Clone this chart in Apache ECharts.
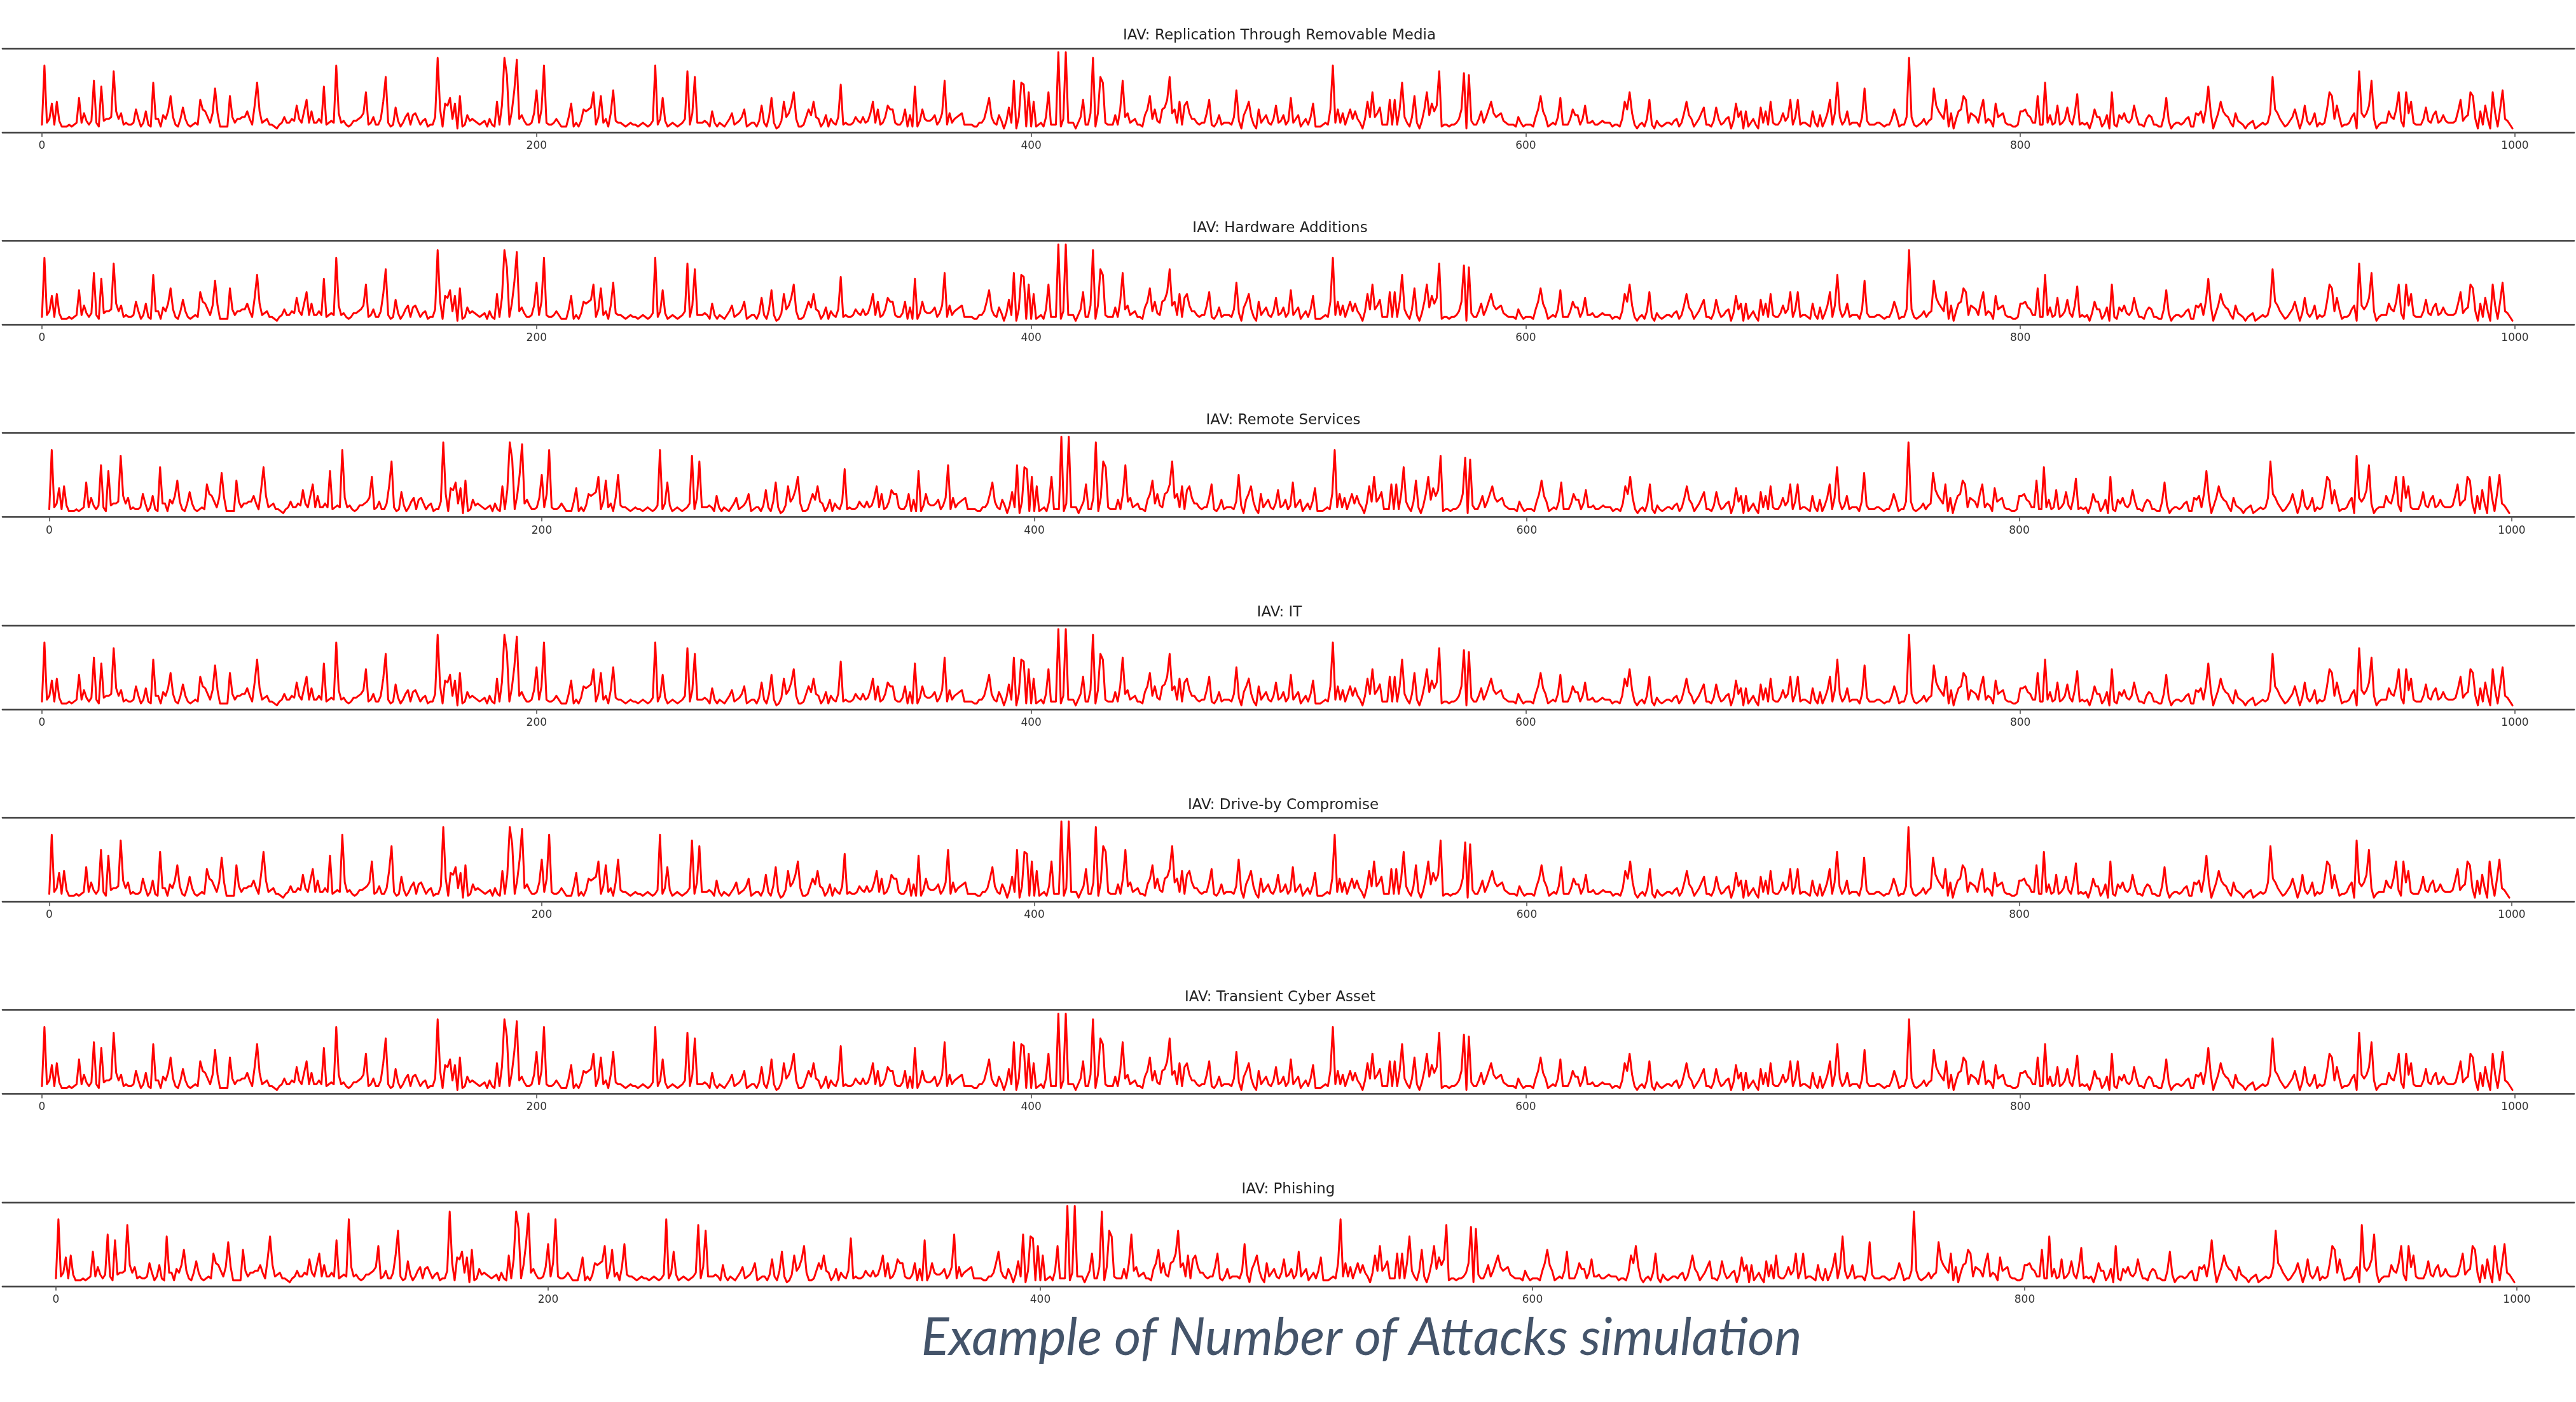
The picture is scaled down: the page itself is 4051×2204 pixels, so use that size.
<!DOCTYPE html>
<html>
<head>
<meta charset="utf-8">
<script src="https://cdn.jsdelivr.net/npm/echarts@6/dist/echarts.min.js"></script>
<style>
html,body{margin:0;padding:0;background:#fff;}
#chart{width:4051px;height:2204px;}
</style>
</head>
<body>
<div id="chart"></div>
<script>
// ---- data (same simulated series shown in every panel) ----
const attacks = [
2,33,3,5,13,2,14,4,1,1,
1,2,1,2,3,16,3,8,4,2,
4,25,3,1,22,4,5,5,6,30,
9,5,8,2,3,2,2,3,10,5,
1,3,9,2,1,24,5,5,1,7,
5,9,17,6,2,1,5,11,5,2,
1,2,3,2,15,10,9,6,3,8,
21,8,1,1,1,1,17,6,3,5,
5,6,6,9,5,2,12,24,9,3,
4,5,2,2,1,0,2,3,6,3,
3,5,4,12,5,3,9,15,3,9,
3,3,5,3,22,2,3,4,3,33,
8,3,4,2,1,2,4,4,5,6,
8,19,2,3,6,2,2,5,14,27,
3,1,2,11,4,1,3,6,8,2,
7,8,5,2,4,5,1,2,2,6,
37,10,1,13,12,16,5,13,0,17,
1,2,7,4,5,4,3,2,3,4,
1,5,2,1,14,2,12,37,28,2,
9,20,36,5,7,4,2,2,3,8,
20,3,10,33,3,2,2,3,5,3,
1,1,1,6,13,1,3,1,4,10,
9,10,11,19,2,6,17,3,5,1,
8,20,4,3,3,2,1,2,3,2,
2,1,2,3,2,1,2,4,33,2,
5,16,4,1,2,3,2,1,2,3,
5,30,2,8,27,3,3,3,4,3,
1,9,3,1,3,2,1,3,5,8,
2,3,4,6,10,1,2,3,3,1,
4,12,3,1,6,16,3,0,1,4,
14,6,8,12,19,5,1,1,2,6,
10,7,14,6,5,1,3,7,1,5,
3,2,6,23,2,3,2,2,3,6,
4,3,6,3,4,8,14,3,10,2,
3,6,12,10,10,3,2,2,4,10,
1,7,1,22,1,4,10,5,4,4,
5,7,2,4,8,25,2,8,3,5,
6,7,8,2,2,2,2,1,1,3,
3,5,10,16,6,3,2,7,4,0,
4,11,3,25,0,6,24,23,1,19,
1,14,1,2,3,1,6,19,2,2,
2,40,1,5,40,3,3,3,0,3,
6,15,2,2,8,37,1,8,27,24,
3,2,2,2,7,2,10,25,6,8,
3,4,5,2,2,1,7,10,17,5,
10,4,3,10,11,15,27,8,10,3,
14,2,12,14,8,5,5,3,2,3,
3,8,15,2,1,3,7,2,3,3,
3,2,6,20,4,0,7,10,14,6,
2,0,10,3,5,7,3,2,5,12,
3,4,7,2,4,16,3,5,7,1,
3,5,2,6,13,1,1,1,2,3,
2,10,33,3,10,3,8,2,6,10,
5,9,5,3,0,5,14,6,19,6,
8,11,2,2,2,15,2,15,2,10,
24,6,3,1,6,17,3,0,4,10,
19,7,13,9,12,30,1,2,2,1,
2,2,3,5,10,29,0,28,4,2,
2,5,9,3,6,10,14,8,6,7,
8,4,3,2,2,2,1,6,3,1,
2,2,2,1,6,10,17,9,6,1,
2,3,2,6,16,2,2,2,5,10,
7,7,2,5,12,3,3,4,2,2,
3,4,3,3,3,1,2,2,1,5,
14,10,19,8,2,0,2,3,1,5,
15,2,0,4,2,1,2,3,3,2,
4,5,1,3,8,14,7,5,1,3,
5,8,11,2,2,1,4,11,5,2,
3,5,6,0,4,13,6,9,0,9,
1,3,5,2,0,11,3,9,2,14,
3,2,2,4,8,4,6,15,2,6,
15,2,3,3,2,1,9,3,1,7,
1,4,8,15,2,8,24,6,2,4,
9,2,3,3,3,1,6,21,4,2,
2,2,3,3,2,1,2,2,5,10,
6,1,2,2,6,37,6,2,1,2,
3,5,2,4,5,21,12,9,7,5,
15,1,8,0,5,9,10,17,15,3,
8,7,6,3,10,15,3,5,4,1,
13,6,7,8,3,2,2,1,1,2,
9,9,10,7,6,3,3,17,2,2,
24,3,7,2,3,12,2,3,5,11,
4,2,8,18,2,3,2,3,0,4,
10,6,6,1,3,7,0,19,2,1,
7,5,8,4,3,5,12,6,2,2,
1,5,7,6,2,2,1,1,6,16,
4,0,2,3,3,2,3,5,6,1,
1,8,7,9,3,10,22,8,0,4,
8,14,9,7,6,3,1,8,4,3,
2,0,2,3,4,0,1,2,3,2,
3,8,27,10,8,5,3,1,2,4,
6,10,5,0,4,12,4,2,4,8,
1,3,2,3,10,19,17,5,12,6,
1,2,2,3,6,8,0,30,8,6,
8,12,25,5,0,2,3,3,3,9,
6,5,10,19,4,1,19,8,14,3,
2,2,2,5,11,4,3,7,9,3,
4,7,4,3,3,3,4,9,15,4,
6,7,19,17,5,0,9,2,12,5,
0,19,8,1,10,20,5,4,2,0
];
const panelTitles = [
  'IAV: Replication Through Removable Media',
  'IAV: Hardware Additions',
  'IAV: Remote Services',
  'IAV: IT',
  'IAV: Drive-by Compromise',
  'IAV: Transient Cyber Asset',
  'IAV: Phishing'
];
const tickValues = [0, 200, 400, 600, 800, 1000];
const captionText = 'Example of Number of Attacks simulation';

// ---- layout (pixels) ----
const spineLeft = 4, spineRight = 4048, W = 4051;
const zeroPx = [66, 66, 77.5, 66, 77.5, 66, 88];
const thousandPx = [3955, 3955, 3950, 3955, 3950, 3955, 3958];
const titleCenter = [2007, 2008, 2013, 2007, 2013, 2008, 2021];
const panelTop0 = 76, panelStep = 302.3, panelH = 132;
const yMin = -2, yMax = 42;

const grids = [], xAxes = [], yAxes = [], series = [], titles = [];
const pts = attacks.map((v, i) => [i, v]);

panelTitles.forEach((t, k) => {
  const top = panelTop0 + k * panelStep;
  const scale = (thousandPx[k] - zeroPx[k]) / 1000;
  const xmin = (spineLeft - zeroPx[k]) / scale;
  const xmax = (spineRight - zeroPx[k]) / scale;
  grids.push({left: spineLeft, width: spineRight - spineLeft, top: top, height: panelH, containLabel: false});
  xAxes.push({
    type: 'value', gridIndex: k, min: xmin, max: xmax, position: 'bottom',
    axisLine: {show: true, onZero: false, lineStyle: {color: '#3a3a3a', width: 2.6}},
    axisTick: {show: true, customValues: tickValues, length: 7, lineStyle: {color: '#555', width: 1.6}},
    axisLabel: {show: true, customValues: tickValues, fontSize: 17, color: '#333', fontFamily: 'DejaVu Sans', margin: 13,
                formatter: v => String(Math.round(v))},
    splitLine: {show: false}
  });
  xAxes.push({
    type: 'value', gridIndex: k, min: xmin, max: xmax, position: 'top',
    axisLine: {show: true, onZero: false, lineStyle: {color: '#3a3a3a', width: 2.6}},
    axisTick: {show: false}, axisLabel: {show: false}, splitLine: {show: false}
  });
  yAxes.push({type: 'value', gridIndex: k, min: yMin, max: yMax, show: false});
  series.push({
    type: 'line', xAxisIndex: 2 * k, yAxisIndex: k, data: pts,
    showSymbol: false, symbol: 'none', sampling: null, silent: true,
    lineStyle: {color: '#ff0000', width: 3, join: 'round', cap: 'round'}
  });
  titles.push({
    text: t, left: titleCenter[k], textAlign: 'center', top: top - 36,
    textStyle: {fontSize: 23, fontWeight: 'normal', color: '#222', fontFamily: 'DejaVu Sans'}
  });
});

titles.push({
  text: captionText, left: 2136, textAlign: 'center', top: 2058,
  textStyle: {fontSize: 81, fontWeight: 'normal', fontStyle: 'italic', color: '#44546A', fontFamily: 'Lato'}
});

const chart = echarts.init(document.getElementById('chart'), null, {renderer: 'canvas', width: W, height: 2204});
chart.setOption({
  animation: false,
  backgroundColor: '#ffffff',
  title: titles,
  grid: grids,
  xAxis: xAxes,
  yAxis: yAxes,
  series: series
});
</script>
</body>
</html>
